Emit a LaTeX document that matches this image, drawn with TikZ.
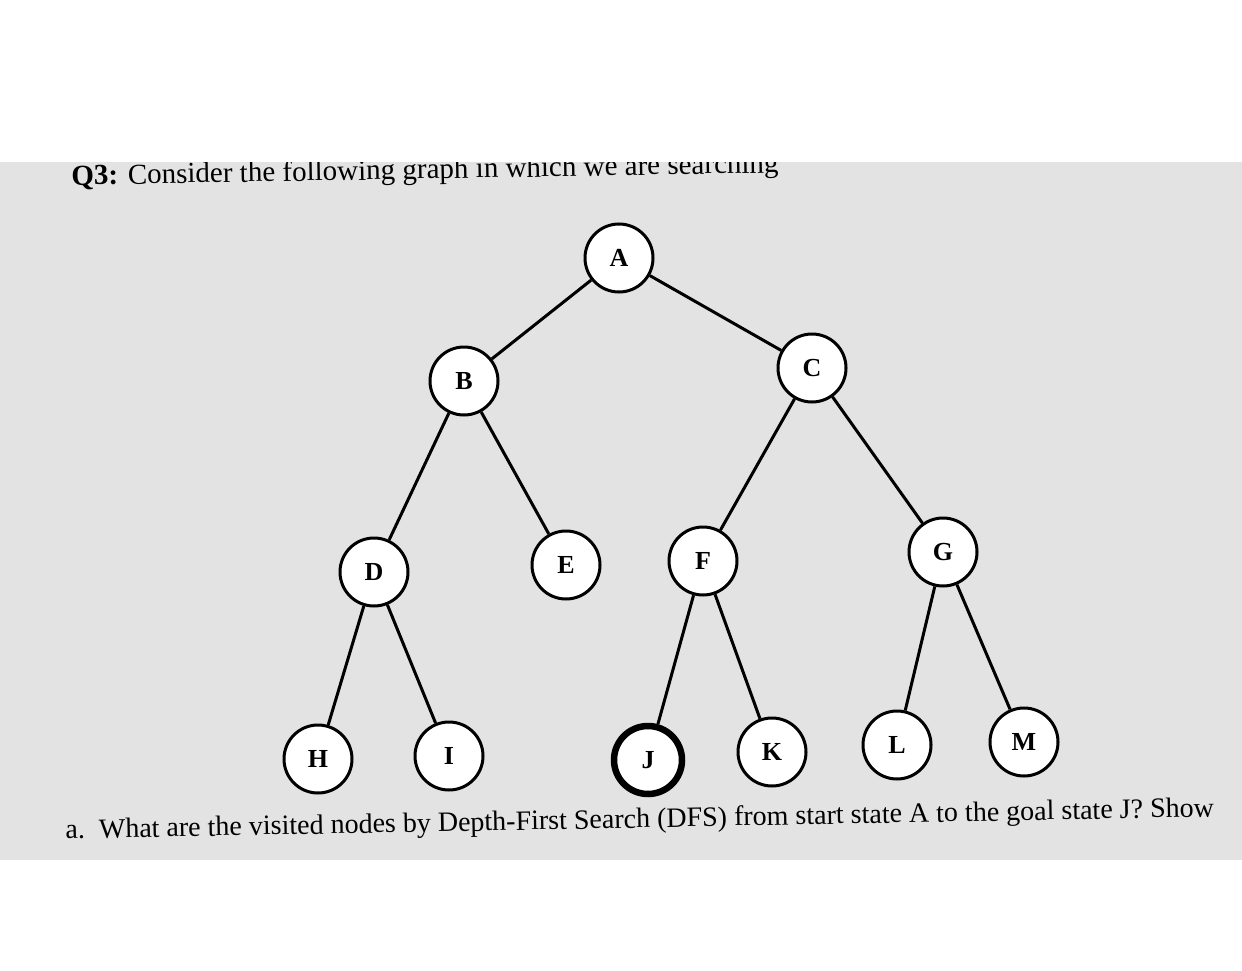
\documentclass[tikz,border=0pt]{standalone}
\usepackage{fontspec}
\setmainfont{Liberation Serif}
\begin{document}
\begin{tikzpicture}[x=1pt,y=-1pt,
  nd/.style={circle,draw=black,line width=3pt,fill=white,minimum size=68pt,inner sep=0pt,font=\fontsize{26}{28}\selectfont\bfseries},
  ed/.style={line width=3pt}]
\useasboundingbox (0,0) rectangle (1242,971);
\fill[white] (0,0) rectangle (1242,971);
\fill[gray!22] (0,162) rectangle (1242,860);
\begin{scope}
\clip (0,162) rectangle (1242,860);
\node[anchor=west,font=\fontsize{29}{31}\selectfont,rotate=1] (q) at (68,178) {\textbf{Q3:} Consider the following graph in which we are searching};
\node[anchor=west,font=\fontsize{28}{30}\selectfont,rotate=1.1] (qa) at (62,832) {a.\enspace What are the visited nodes by Depth-First Search (DFS) from start state A to the goal state J? Show};
\end{scope}
\node[nd] (A) at (619,258) {A};
\node[nd] (B) at (464,381) {B};
\node[nd] (C) at (812,368) {C};
\node[nd] (D) at (374,572) {D};
\node[nd] (E) at (566,565) {E};
\node[nd] (F) at (703,561) {F};
\node[nd] (G) at (943,552) {G};
\node[nd] (H) at (318,759) {H};
\node[nd] (I) at (449,756) {I};
\node[nd,line width=6.5pt] (J) at (648,760) {J};
\node[nd] (K) at (772,752) {K};
\node[nd] (L) at (897,745) {L};
\node[nd] (M) at (1024,742) {M};
\foreach \a/\b in {A/B,A/C,B/D,B/E,C/F,C/G,D/H,D/I,F/J,F/K,G/L,G/M}
  \draw[ed] (\a) -- (\b);
\end{tikzpicture}
\end{document}
